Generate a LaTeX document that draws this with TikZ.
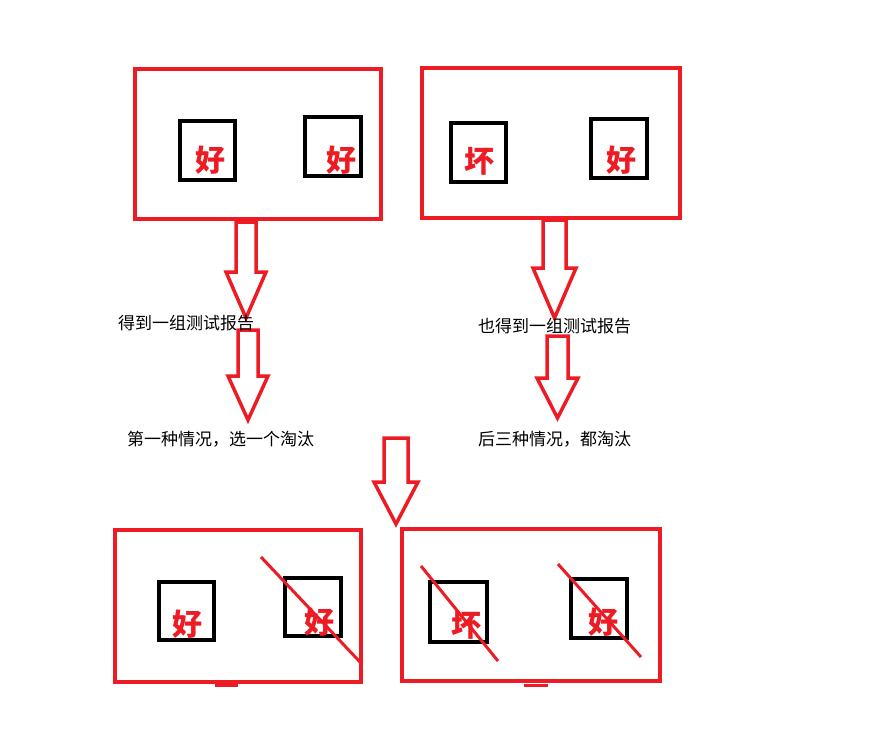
\documentclass[tikz,border=0pt]{standalone}
\usepackage{fontspec}
\newfontfamily\cjk{Noto Sans CJK SC}
\definecolor{rd}{RGB}{237,28,36}
\begin{document}
\begin{tikzpicture}[x=1pt,y=-1pt,
  rbox/.style={draw=rd,line width=3.5pt},
  bsq/.style={draw=black,line width=3.5pt},
  ch/.style={text=rd,font=\cjk\bfseries\fontsize{30}{30}\selectfont,inner sep=0},
  lbl/.style={font=\cjk\fontsize{17}{17}\selectfont,inner sep=0,anchor=west},
  cross/.style={draw=rd,line width=3pt},
  arr/.style={draw=rd,line width=3.5pt,line join=miter}]
\useasboundingbox (0,0) rectangle (870,737);
% top boxes
\draw[rbox] (135,69) rectangle (381,219);
\draw[bsq] (180,121) rectangle (235,180);
\draw[bsq] (305,117) rectangle (361,176);
\node[ch] (c1) at (210,160) {好};
\node[ch] (c2) at (341,160) {好};
\draw[rbox] (422,68) rectangle (680,218);
\draw[bsq] (451,123) rectangle (506,182);
\draw[bsq] (591,119) rectangle (647,178);
\node[ch] (c3) at (479,161) {坏};
\node[ch] (c4) at (621,160) {好};
% arrows
\newcommand\darrow[6]{\draw[arr] (#1,#4) -- (#1,#5) -- (#1-10,#5) -- ({(#1+#2)/2},#6) -- (#2+10,#5) -- (#2,#5) -- (#2,#4) -- cycle;}
\darrow{236}{256}{0}{222}{272}{318}
\darrow{238}{258}{0}{330}{376}{420}
\darrow{543}{566}{0}{220}{268}{318}
\darrow{547}{568}{0}{336}{378}{418}
\darrow{384}{408}{0}{438}{482}{524}
% labels
\node[lbl] (t1) at (118,323) {得到一组测试报告};
\node[lbl] (t2) at (478,326) {也得到一组测试报告};
\node[lbl] (t3) at (127,439) {第一种情况，选一个淘汰};
\node[lbl] (t4) at (478,439) {后三种情况，都淘汰};
% bottom boxes
\draw[rbox] (115,530) rectangle (361,682);
\draw[bsq] (159,582) rectangle (214,640);
\draw[bsq] (285,578) rectangle (341,636);
\node[ch] (c5) at (187,624) {好};
\node[ch] (c6) at (319,622) {好};
\draw[cross] (261,557) -- (360,662);
\draw[rbox] (402,529) rectangle (660,681);
\draw[bsq] (430,582) rectangle (487,642);
\draw[bsq] (571,579) rectangle (627,638);
\node[ch] (c7) at (466,625) {坏};
\node[ch] (c8) at (603,622) {好};
\draw[cross] (421,566) -- (498,661);
\draw[cross] (558,564) -- (641,657);
\draw[rd,line width=3pt] (215,685) -- (238,685);
\draw[rd,line width=3pt] (524,685) -- (548,685);
\end{tikzpicture}
\end{document}
